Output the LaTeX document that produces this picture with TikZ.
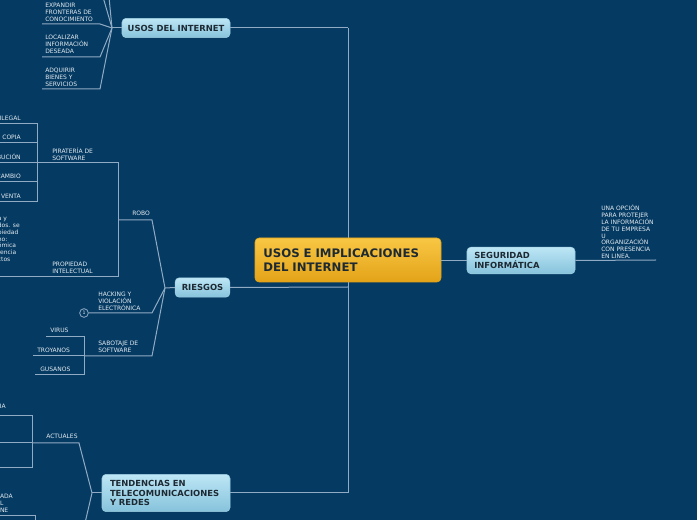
\documentclass[tikz,border=0pt]{standalone}
\usepackage{fontspec}
\setmainfont{DejaVu Sans}
\usetikzlibrary{shapes.misc}
\definecolor{bg}{HTML}{053A62}
\definecolor{ln}{HTML}{90ABC3}
\definecolor{tx}{HTML}{E4ECF2}
\definecolor{boxtop}{HTML}{BDE6F5}
\definecolor{boxbot}{HTML}{86C3DC}
\definecolor{goldtop}{HTML}{F9C744}
\definecolor{goldbot}{HTML}{E3A318}
\definecolor{dk}{HTML}{1E2A33}
\tikzset{
  lnk/.style={draw=ln, line width=0.75pt},
  small/.style={text=tx, inner sep=0pt, anchor=north west, align=left, font=\fontsize{4.5}{5.1}\selectfont},
  topic/.style={rounded corners=3pt, top color=boxtop, bottom color=boxbot, draw=boxbot!80!white, text=dk, font=\bfseries\fontsize{6.3}{7.4}\selectfont, align=left, inner sep=0pt},
}
\begin{document}
\begin{tikzpicture}[x=0.75pt,y=-0.75pt]
\fill[bg] (0,0) rectangle (697,520);
\useasboundingbox (0,0) rectangle (697,520);
\clip (0,0) rectangle (697,520);
% trunk
\coordinate (t1) at (348,28); \coordinate (t2) at (348,493); \coordinate (tr) at (348,287);
\draw[lnk] (t1) -- (t2);
% central
\node[rounded corners=3pt, top color=goldtop, bottom color=goldbot, draw=goldbot, text=dk, font=\bfseries\fontsize{8.8}{10.5}\selectfont, align=left, minimum width=139.5pt, minimum height=33pt, text width=127pt] (c) at (348,260) {USOS E IMPLICACIONES\\DEL INTERNET};
% main topics
\node[topic, minimum width=81pt, minimum height=14.5pt, align=center] (u) at (176,28) {USOS DEL INTERNET};
\node[topic, minimum width=41pt, minimum height=14.5pt, align=center] (r) at (202.5,287.5) {RIESGOS};
\node[topic, minimum width=96pt, minimum height=28pt, text width=84pt] (te) at (166,493) {TENDENCIAS EN\\TELECOMUNICACIONES\\Y REDES};
\node[topic, minimum width=81pt, minimum height=20pt, text width=70pt] (s) at (521,260.5) {SEGURIDAD\\INFORMÁTICA};
\draw[lnk] (u.east) -- (t1);
\draw[lnk] (te.east) -- (t2);
\draw[lnk] (r.east) -- (tr);
\draw[lnk] (c.east |- s.west) -- (s.west);
% seguridad child
\coordinate (sc) at (656,260);
\draw[lnk] (s.east) -- (sc);
\node[small] (sct) at (601,205) {UNA OPCIÓN\\PARA PROTEJER\\LA INFORMACIÓN\\DE TU EMPRESA\\U\\ORGANIZACIÓN\\CON PRESENCIA\\EN LINEA.};
% usos children
\coordinate (uh) at (112,28);
\draw[lnk] (u.west) -- (uh);
\coordinate (ua) at (100,24); \coordinate (ua0) at (42,24);
\coordinate (ub) at (100,57); \coordinate (ub0) at (42,57);
\coordinate (uc) at (100,89); \coordinate (uc0) at (42,89);
\coordinate (ux) at (103,-3); \coordinate (uy) at (109,-3);
\draw[lnk] (ua0) -- (ua) -- (uh);
\draw[lnk] (ub0) -- (ub) -- (uh);
\draw[lnk] (uc0) -- (uc) -- (uh);
\draw[lnk] (ux) -- (uh); \draw[lnk] (uy) -- (uh);
\node[small] (uat) at (45,3) {EXPANDIR\\FRONTERAS DE\\CONOCIMIENTO};
\node[small] (ubt) at (45,35) {LOCALIZAR\\INFORMACIÓN\\DESEADA};
\node[small] (uct) at (45,68) {ADQUIRIR\\BIENES Y\\SERVICIOS};
% riesgos children
\coordinate (rh) at (165,288);
\draw[lnk] (r.west) -- (rh);
\coordinate (ro) at (152,220); \coordinate (ro0) at (118,220);
\draw[lnk] (ro0) -- (ro) -- (rh);
\node[small] (rot) at (132,211) {ROBO};
\coordinate (ha) at (152,313);
\node[circle, draw=ln, line width=0.6pt, inner sep=0pt, minimum size=6.5pt, text=tx, font=\fontsize{3.5}{4}\selectfont] (hc) at (84,313) {1};
\draw[lnk] (hc.east) -- (ha) -- (rh);
\node[small] (hat) at (98,292) {HACKING Y\\VIOLACIÓN\\ELECTRÓNICA};
\coordinate (sa) at (152,356); \coordinate (sa0) at (84,356);
\draw[lnk] (sa0) -- (sa) -- (rh);
\node[small] (sat) at (98,341) {SABOTAJE DE\\SOFTWARE};
% sabotaje bracket
\draw[lnk] (46,337) -- (84,337) -- (84,375) -- (35,375);
\draw[lnk] (33,356) -- (sa0);
\node[small] (v) at (50,328) {VIRUS};
\node[small] (tro) at (37,348) {TROYANOS};
\node[small] (gu) at (40,367) {GUSANOS};
% robo bracket
\draw[lnk] (48,163) -- (118,163) -- (118,277) -- (0,277);
\node[small] (pi) at (52,148) {PIRATERÍA DE\\SOFTWARE};
\node[small] (pr) at (52,262) {PROPIEDAD\\INTELECTUAL};
\node[small, anchor=north east] (prd) at (20,217) {a y\\dos. se\\piedad\\no:\\ómica\\rencia\\ctos};
% pirateria bracket
\draw[lnk] (0,124) -- (37,124) -- (37,202) -- (0,202);
\draw[lnk] (0,143) -- (37,143);
\draw[lnk] (0,163) -- (48,163);
\draw[lnk] (0,182) -- (37,182);
\node[small, anchor=south east] (p1) at (21,120.5) {COPIA ILEGAL};
\node[small, anchor=south east] (p2) at (21,140) {COPIA};
\node[small, anchor=south east] (p3) at (21,159.5) {DISTRIBUCIÓN};
\node[small, anchor=south east] (p4) at (21,179) {INTERCAMBIO};
\node[small, anchor=south east] (p5) at (21,198.5) {VENTA};
% tendencias children
\coordinate (th) at (92,493);
\draw[lnk] (te.west) -- (th);
\coordinate (ac) at (79,443); \coordinate (ac0) at (32,443);
\draw[lnk] (ac0) -- (ac) -- (th);
\node[small] (act) at (46,434) {ACTUALES};
\draw[lnk] (0,416) -- (32,416) -- (32,468) -- (0,468);
\draw[lnk] (0,443) -- (ac0);
\node[small, anchor=south east] (a1) at (6,409) {IA};
\coordinate (bt) at (85,523);
\draw[lnk] (th) -- (bt);
\draw[lnk] (0,516) -- (35,516) -- (35,523);
\node[small, anchor=north east] (b1) at (13,494) {ADA\\L\\NE};
\end{tikzpicture}
\end{document}
